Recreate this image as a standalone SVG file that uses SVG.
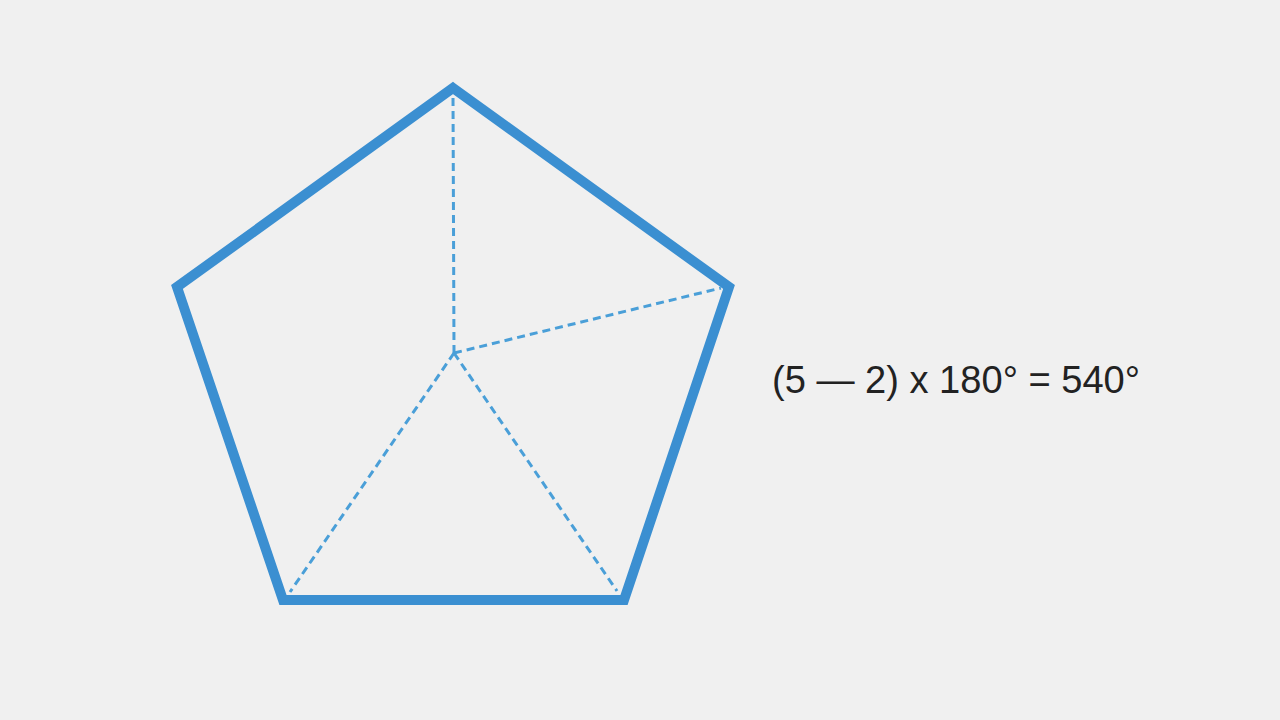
<svg xmlns="http://www.w3.org/2000/svg" width="1280" height="720" viewBox="0 0 1280 720">
<style>
.edge{fill:none;stroke:#3b8fd1;stroke-width:10;stroke-linejoin:miter}
.diag{stroke:#4a9fd8;stroke-width:3;stroke-dasharray:8 5;fill:none}
.lbl{font-family:"Liberation Sans",Arial,sans-serif;font-size:38px;fill:#222}
</style>
<rect width="1280" height="720" fill="#f0f0f0"/>
<g id="pentagon">
<polygon class="edge" points="453,88 729,287 624,600 283,600 177,287"/>
</g>
<g id="connectors">
<line class="diag" x1="454" y1="353" x2="453" y2="95"/>
<line class="diag" x1="454" y1="353" x2="721" y2="288"/>
<line class="diag" x1="454" y1="353" x2="617" y2="591"/>
<line class="diag" x1="454" y1="353" x2="290" y2="592"/>
</g>
<g id="formula">
<text class="lbl" x="772" y="393" textLength="368" lengthAdjust="spacingAndGlyphs">(5 — 2) x 180° = 540°</text>
</g>
</svg>
